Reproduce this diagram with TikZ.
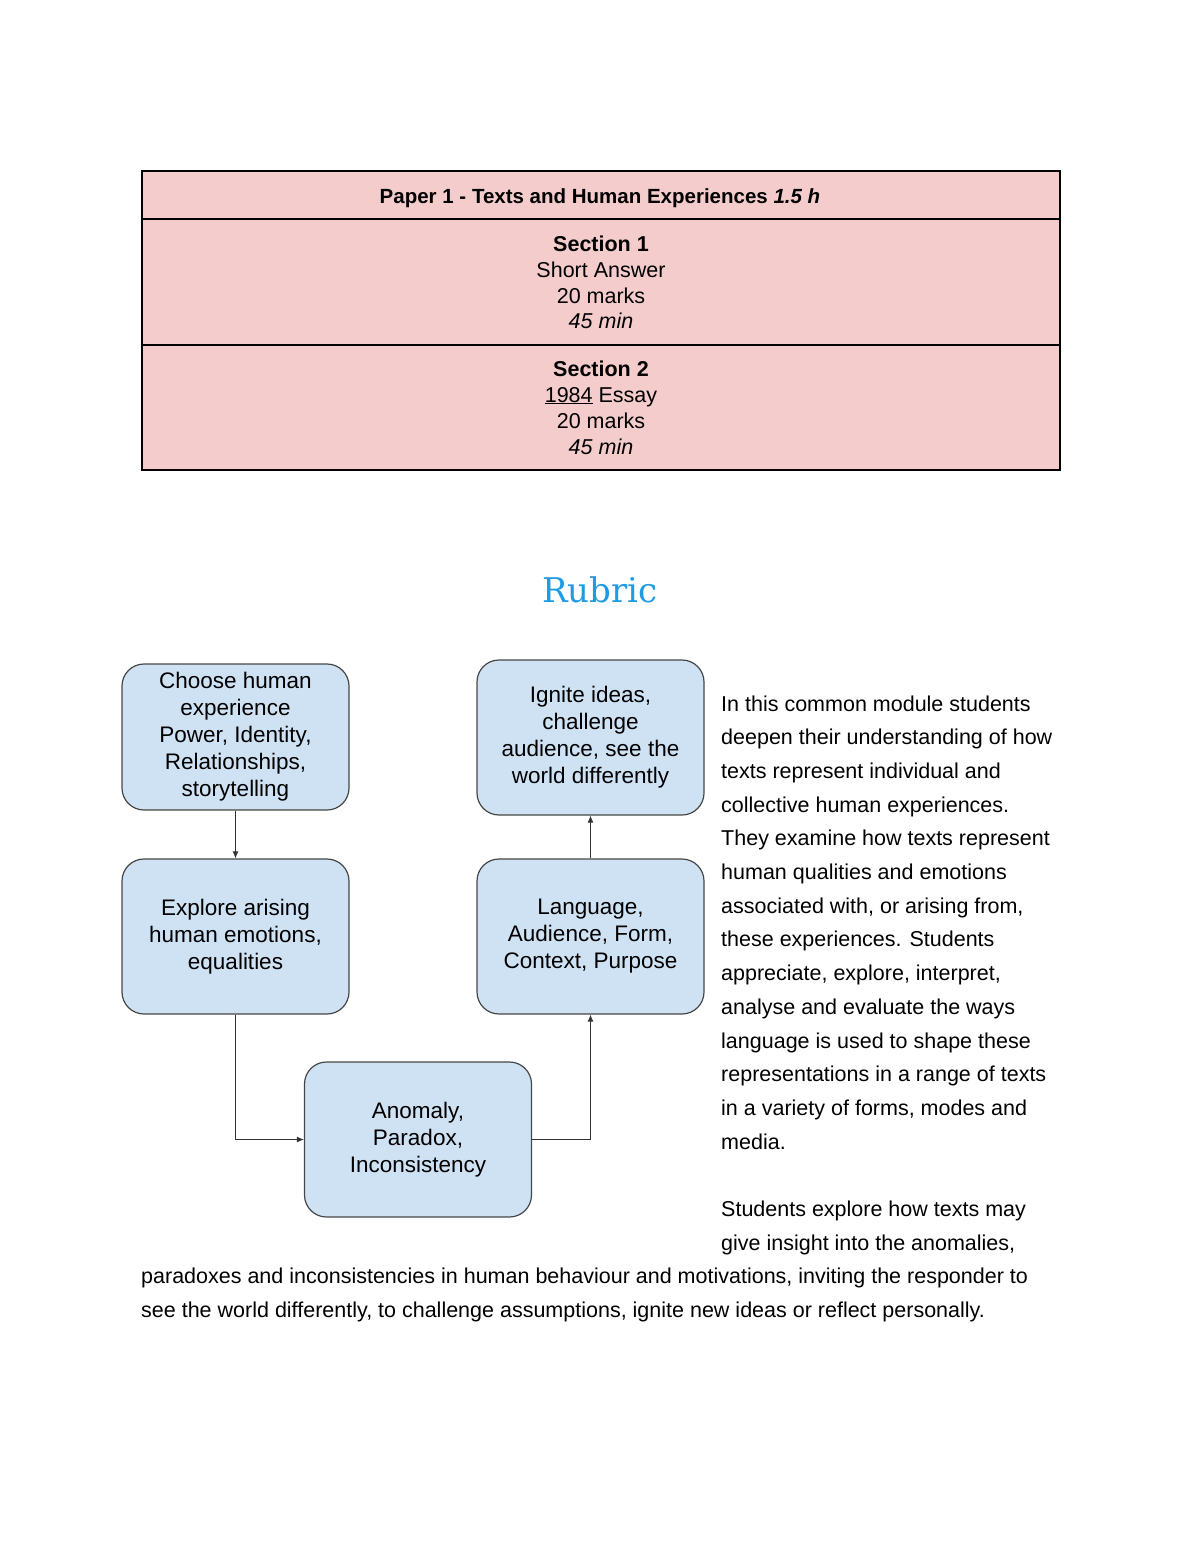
\documentclass[tikz,border=0pt]{standalone}
\usepackage{fontspec}
\setmainfont{Liberation Sans}
\newfontfamily\rubricfont{DejaVu Serif}
\usepackage{xcolor}
\usepackage{tikz}
\usetikzlibrary{positioning,calc,arrows.meta}

\definecolor{tablepink}{RGB}{244,204,204}
\definecolor{boxblue}{RGB}{207,226,243}
\definecolor{boxline}{RGB}{70,70,70}
\definecolor{rubricblue}{RGB}{29,155,229}

\begin{document}
\begin{tikzpicture}[x=1pt,y=-1pt,
  stepbox/.style={draw=boxline,line width=1.2pt,fill=boxblue,rounded corners=22pt,
    minimum width=227pt,minimum height=153pt,align=center,
    font=\fontsize{22.5}{27}\selectfont},
  arr/.style={draw=black!80,line width=0.9pt,-{Latex[length=7pt,width=6pt]}},
  celltext/.style={anchor=base,font=\fontsize{21.5}{26}\selectfont},
  bodyline/.style={anchor=base west,inner sep=0pt,font=\fontsize{21.5}{33.7}\selectfont}]
\useasboundingbox (0,0) rectangle (1200,1553);

% Table
\fill[tablepink] (142,171) rectangle (1060,470);
\draw[line width=2.2pt] (142,171) rectangle (1060,470);
\draw[line width=2pt] (142,219) -- (1060,219);
\draw[line width=2pt] (142,345) -- (1060,345);
\node[celltext,font=\fontsize{20.5}{26}\selectfont] (head) at (600,203) {\textbf{Paper 1 - Texts and Human Experiences \textit{1.5 h}}};
\node[celltext] (sa) at (601,251) {\textbf{Section 1}};
\node[celltext] (sb) at (601,277) {Short Answer};
\node[celltext] (sc) at (601,303) {20 marks};
\node[celltext] (sd) at (601,328) {\textit{45 min}};
\node[celltext] (ta) at (601,376) {\textbf{Section 2}};
\node[celltext] (tb) at (601,402) {\underline{1984} Essay};
\node[celltext] (tc) at (601,428) {20 marks};
\node[celltext] (td) at (601,454) {\textit{45 min}};

% Rubric
\node[anchor=base,text=rubricblue,font=\rubricfont\fontsize{34}{40}\selectfont] (rubric) at (600,602) {Rubric};

% Flow chart
\node[stepbox,minimum height=146pt] (choose) at (235.5,737) {Choose human\\experience\\Power, Identity,\\Relationships,\\storytelling};
\node[stepbox,minimum height=155pt] (explore) at (235.5,936.5) {Explore arising\\human emotions,\\equalities};
\node[stepbox,minimum height=155pt] (anomaly) at (418,1139.5) {Anomaly,\\Paradox,\\Inconsistency};
\node[stepbox,minimum height=155pt] (language) at (590.5,936.5) {Language,\\Audience, Form,\\Context, Purpose};
\node[stepbox,minimum height=155pt] (ignite) at (590.5,737.5) {Ignite ideas,\\challenge\\audience, see the\\world differently};

\draw[arr] (choose) -- (explore);
\draw[arr] (explore.south) |- (anomaly.west);
\draw[arr] (anomaly.east) -| (language.south);
\draw[arr] (language) -- (ignite);

% Text beside the chart
\foreach \t [count=\i from 0] in {{In this common module students},
  {deepen their understanding of how},{texts represent individual and},
  {collective human experiences.},{They examine how texts represent},
  {human qualities and emotions},{associated with, or arising from,},
  {these experiences. Students},{appreciate, explore, interpret,},
  {analyse and evaluate the ways},{language is used to shape these},
  {representations in a range of texts},{in a variety of forms, modes and},
  {media.}}
  \node[bodyline] (intro\i) at (721,{711+33.7*\i}) {\t};
\node[bodyline] (insight0) at (721,1216) {Students explore how texts may};
\node[bodyline] (insight1) at (721,1250) {give insight into the anomalies,};
\node[bodyline] (insight2) at (141,1283) {paradoxes and inconsistencies in human behaviour and motivations, inviting the responder to};
\node[bodyline] (insight3) at (141,1317) {see the world differently, to challenge assumptions, ignite new ideas or reflect personally.};
\end{tikzpicture}
\end{document}
